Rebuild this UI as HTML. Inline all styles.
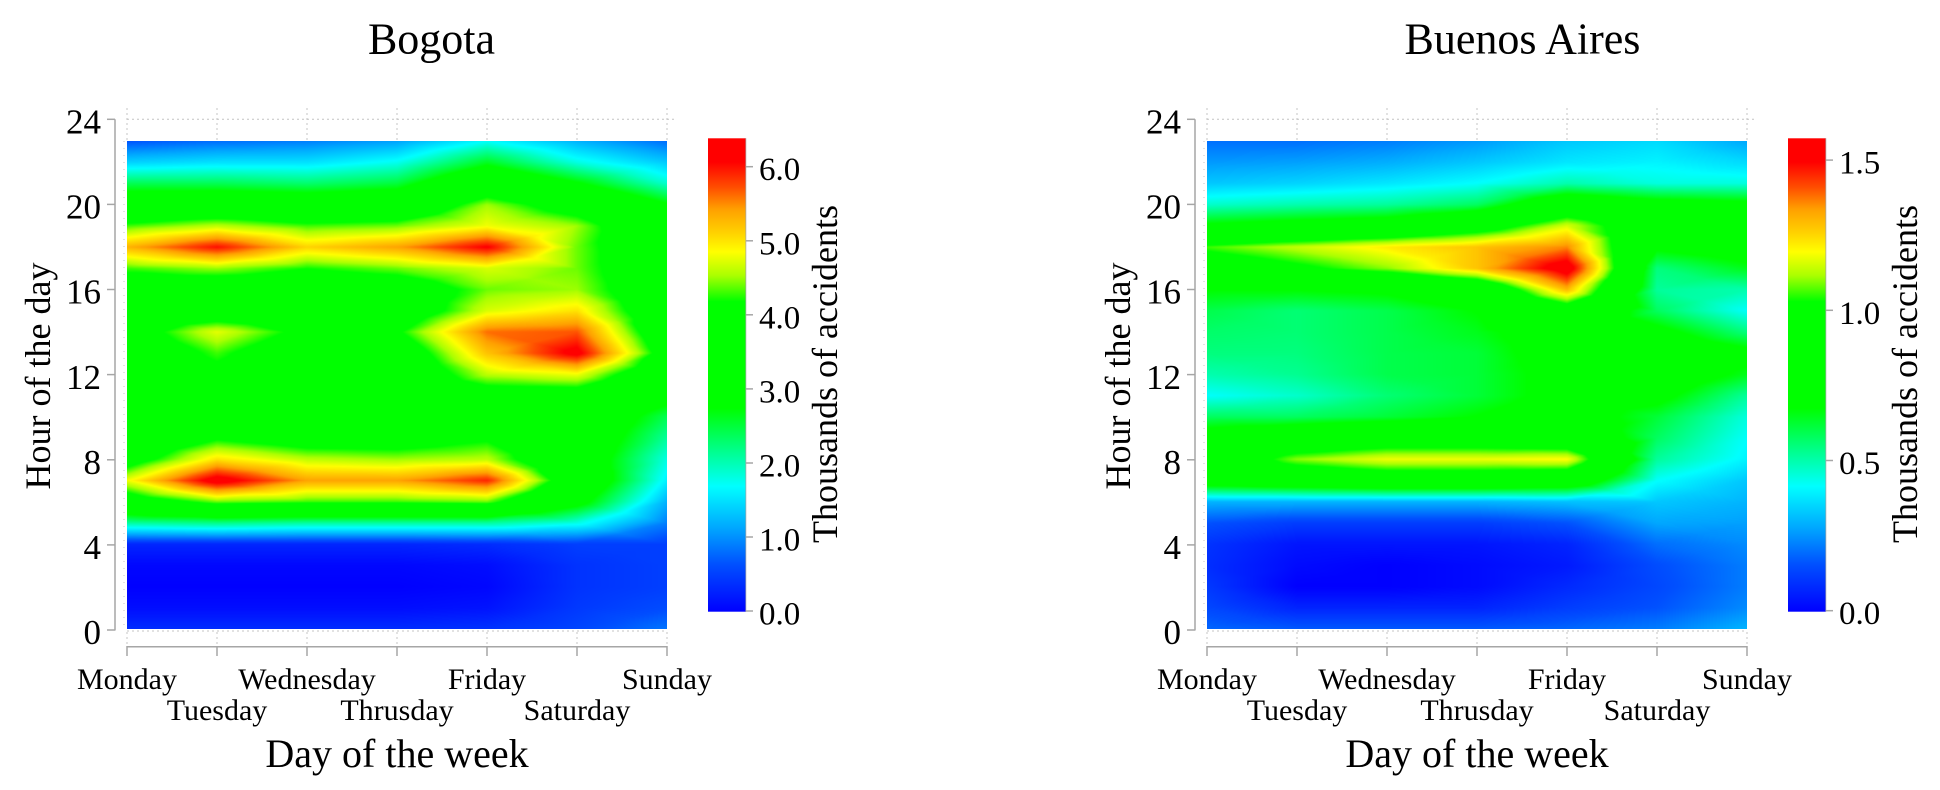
<!DOCTYPE html>
<html><head><meta charset="utf-8">
<style>
html,body{margin:0;padding:0;background:#fff;}
#wrap{position:relative;width:1940px;height:790px;overflow:hidden;background:#fff;}
canvas{position:absolute;background:linear-gradient(to top,#0010ff 0%,#0020ff 16%,#00ffff 20%,#00ff00 26%,#00ff00 84%,#00ffff 91%,#0070ff 100%);}
svg{position:absolute;left:0;top:0;}
text{font-family:"Liberation Serif","Times New Roman",serif;fill:#000;}
</style></head><body>
<div id="wrap">
<canvas id="c1" width="540" height="488" style="left:127px;top:141px;"></canvas>
<canvas id="c2" width="540" height="488" style="left:1207px;top:141px;"></canvas>
<svg width="1940" height="790" viewBox="0 0 1940 790">
<defs>
<linearGradient id="cm" x1="0" y1="1" x2="0" y2="0">
<stop offset="0" stop-color="rgb(0,0,255)"/>
<stop offset="0.10" stop-color="rgb(0,80,255)"/>
<stop offset="0.18" stop-color="rgb(0,170,255)"/>
<stop offset="0.265" stop-color="rgb(0,255,255)"/>
<stop offset="0.34" stop-color="rgb(0,255,140)"/>
<stop offset="0.43" stop-color="rgb(0,255,0)"/>
<stop offset="0.655" stop-color="rgb(0,255,0)"/>
<stop offset="0.71" stop-color="rgb(170,255,0)"/>
<stop offset="0.76" stop-color="rgb(255,255,0)"/>
<stop offset="0.80" stop-color="rgb(255,210,0)"/>
<stop offset="0.85" stop-color="rgb(255,160,0)"/>
<stop offset="0.895" stop-color="rgb(255,80,0)"/>
<stop offset="0.95" stop-color="rgb(255,0,0)"/>
<stop offset="1" stop-color="rgb(255,0,0)"/>
</linearGradient>
<g id="frame">
<g stroke="#c4c4c4" stroke-width="1" stroke-dasharray="2,3" fill="none">
<line x1="127" y1="119.3" x2="677" y2="119.3"/>
<line x1="127" y1="631" x2="667" y2="631"/>
<line x1="127" y1="108" x2="127" y2="141"/>
<line x1="217" y1="108" x2="217" y2="141"/>
<line x1="307" y1="108" x2="307" y2="141"/>
<line x1="397" y1="108" x2="397" y2="141"/>
<line x1="487" y1="108" x2="487" y2="141"/>
<line x1="577" y1="108" x2="577" y2="141"/>
<line x1="667" y1="108" x2="667" y2="141"/>
<line x1="127" y1="632" x2="127" y2="645"/>
<line x1="217" y1="632" x2="217" y2="645"/>
<line x1="307" y1="632" x2="307" y2="645"/>
<line x1="397" y1="632" x2="397" y2="645"/>
<line x1="487" y1="632" x2="487" y2="645"/>
<line x1="577" y1="632" x2="577" y2="645"/>
<line x1="667" y1="632" x2="667" y2="645"/>
<line x1="124" y1="141" x2="124" y2="630" stroke-dasharray="1,6"/>
</g>
<g stroke="#a6a6a6" stroke-width="1.5" fill="none">
<line x1="115" y1="119.3" x2="115" y2="630.5"/>
<line x1="107" y1="630" x2="115" y2="630"/>
<line x1="107" y1="544.9" x2="115" y2="544.9"/>
<line x1="107" y1="459.8" x2="115" y2="459.8"/>
<line x1="107" y1="374.6" x2="115" y2="374.6"/>
<line x1="107" y1="289.5" x2="115" y2="289.5"/>
<line x1="107" y1="204.4" x2="115" y2="204.4"/>
<line x1="107" y1="119.3" x2="115" y2="119.3"/>
<line x1="127" y1="646.7" x2="667" y2="646.7"/>
<line x1="127" y1="646" x2="127" y2="656"/>
<line x1="217" y1="646" x2="217" y2="656"/>
<line x1="307" y1="646" x2="307" y2="656"/>
<line x1="397" y1="646" x2="397" y2="656"/>
<line x1="487" y1="646" x2="487" y2="656"/>
<line x1="577" y1="646" x2="577" y2="656"/>
<line x1="667" y1="646" x2="667" y2="656"/>
<line x1="745.5" y1="138.3" x2="745.5" y2="611.7"/>
</g>
<rect x="708" y="138.3" width="37.5" height="473.4" fill="url(#cm)"/>
<g font-size="35" text-anchor="end">
<text x="101" y="644">0</text>
<text x="101" y="559">4</text>
<text x="101" y="474">8</text>
<text x="101" y="389">12</text>
<text x="101" y="303.5">16</text>
<text x="101" y="218.5">20</text>
<text x="101" y="133.5">24</text>
</g>
<g font-size="30" text-anchor="middle">
<text x="127" y="689">Monday</text>
<text x="307" y="689">Wednesday</text>
<text x="487" y="689">Friday</text>
<text x="667" y="689">Sunday</text>
<text x="217" y="720">Tuesday</text>
<text x="397" y="720">Thrusday</text>
<text x="577" y="720">Saturday</text>
</g>
<text x="397" y="767" font-size="40" text-anchor="middle">Day of the week</text>
<text transform="translate(50,376) rotate(-90)" font-size="36" text-anchor="middle">Hour of the day</text>
<text transform="translate(837,374) rotate(-90)" font-size="36" text-anchor="middle">Thousands of accidents</text>
</g>
</defs>

<use href="#frame" x="0" y="0"/>
<use href="#frame" x="1080" y="0"/>

<g stroke="#a6a6a6" stroke-width="1.5">
<line x1="745.5" y1="611" x2="753" y2="611"/>
<line x1="745.5" y1="537" x2="753" y2="537"/>
<line x1="745.5" y1="463" x2="753" y2="463"/>
<line x1="745.5" y1="388.9" x2="753" y2="388.9"/>
<line x1="745.5" y1="314.8" x2="753" y2="314.8"/>
<line x1="745.5" y1="240.8" x2="753" y2="240.8"/>
<line x1="745.5" y1="166.7" x2="753" y2="166.7"/>
</g>
<g font-size="33">
<text x="759" y="624.5">0.0</text>
<text x="759" y="550.5">1.0</text>
<text x="759" y="476.5">2.0</text>
<text x="759" y="402.4">3.0</text>
<text x="759" y="328.3">4.0</text>
<text x="759" y="254.3">5.0</text>
<text x="759" y="180.2">6.0</text>
</g>
<g stroke="#a6a6a6" stroke-width="1.5">
<line x1="1825.5" y1="610.7" x2="1833" y2="610.7"/>
<line x1="1825.5" y1="460.5" x2="1833" y2="460.5"/>
<line x1="1825.5" y1="310.3" x2="1833" y2="310.3"/>
<line x1="1825.5" y1="160.1" x2="1833" y2="160.1"/>
</g>
<g font-size="33">
<text x="1839" y="624.2">0.0</text>
<text x="1839" y="474">0.5</text>
<text x="1839" y="323.8">1.0</text>
<text x="1839" y="173.6">1.5</text>
</g>

<text x="431.5" y="53.3" font-size="44" text-anchor="middle">Bogota</text>
<text x="1522.5" y="53.3" font-size="44" text-anchor="middle">Buenos Aires</text>
</svg>
</div>
<script>
(function(){
var stops=[[0,0,0,255],[0.10,0,80,255],[0.18,0,170,255],[0.265,0,255,255],[0.34,0,255,140],[0.43,0,255,0],[0.655,0,255,0],[0.71,170,255,0],[0.76,255,255,0],[0.80,255,210,0],[0.85,255,160,0],[0.895,255,80,0],[0.95,255,0,0],[1,255,0,0]];
function cm(f){
  if(f<=0) return [0,0,255];
  if(f>=1) return [255,0,0];
  for(var k=1;k<stops.length;k++){
    if(f<=stops[k][0]){
      var a=stops[k-1],b=stops[k],t=(f-a[0])/(b[0]-a[0]);
      return [a[1]+t*(b[1]-a[1]),a[2]+t*(b[2]-a[2]),a[3]+t*(b[3]-a[3])];
    }
  }
  return [255,0,0];
}
function val(D,d,h){
  var i=Math.floor(d),j=Math.floor(h);
  if(i>5)i=5; if(i<0)i=0; if(j>22)j=22; if(j<0)j=0;
  var u=d-i,v=h-j;
  if(u<0)u=0; if(u>1)u=1; if(v<0)v=0; if(v>1)v=1;
  var a=D[i][j],b=D[i+1][j],c=D[i+1][j+1],e=D[i][j+1];
  var m=(a+b+c+e)/4;
  if(v<=u && v<=1-u){ return a*(1-u-v)+b*(u-v)+m*2*v; }
  if(v>=u && v>=1-u){ var w=1-v; return e*(1-u-w)+c*(u-w)+m*2*w; }
  if(u<=v && u<=1-v){ return a*(1-u-v)+e*(v-u)+m*2*u; }
  var w2=1-u; return b*(1-w2-v)+c*(v-w2)+m*2*w2;
}
function draw(id,D,vmax){
  var c=document.getElementById(id); if(!c.getContext) return;
  var ctx=c.getContext('2d'),W=c.width,H=c.height,im=ctx.createImageData(W,H),p=im.data;
  for(var y=0;y<H;y++){
    var h=23*(1-(y+0.5)/H);
    for(var x=0;x<W;x++){
      var d=6*(x+0.5)/W;
      var col=cm(val(D,d,h)/vmax);
      var k=(y*W+x)*4;
      p[k]=col[0];p[k+1]=col[1];p[k+2]=col[2];p[k+3]=255;
    }
  }
  ctx.putImageData(im,0,0);
}
var BOG=[
[0.35,0.1,0,0.05,0.3,2.1,3.7,4.8,3.8,3.5,3.0,3.4,3.5,3.6,3.8,3.6,3.7,4.3,5.3,4.3,3.3,2.4,1.4,0.65],
[0.35,0.1,0,0.05,0.3,2.2,4.4,6.3,5.0,4.1,3.5,3.4,4.0,4.3,4.75,3.6,3.6,4.5,6.0,4.6,3.4,2.4,1.5,0.8],
[0.35,0.1,0,0.05,0.3,2.1,4.3,5.4,4.6,3.8,3.5,3.5,3.5,3.6,4.0,3.5,3.6,4.2,5.1,4.3,3.3,2.3,1.5,0.9],
[0.35,0.1,0,0.05,0.3,2.1,4.3,5.4,4.5,3.8,3.5,3.5,3.5,3.6,4.1,3.6,3.7,4.4,5.4,4.4,3.4,2.5,1.75,1.1],
[0.4,0.15,0.05,0.1,0.35,2.1,4.4,5.9,4.6,4.1,3.6,3.8,4.6,5.2,5.6,4.7,4.4,4.7,6.1,4.8,4.5,3.6,2.6,1.7],
[0.55,0.45,0.4,0.4,0.5,1.8,3.0,3.5,3.3,3.4,3.5,3.8,4.8,6.2,5.7,5.0,4.5,4.4,4.4,4.5,3.8,2.8,1.8,1.2],
[0.85,0.6,0.5,0.5,0.5,0.9,1.2,1.6,1.8,2.1,2.4,3.0,3.4,3.8,3.5,3.5,3.6,3.6,3.5,3.3,2.8,1.9,1.35,0.8]
];
var BA=[
[0.19,0.14,0.11,0.09,0.1,0.16,0.3,0.8,0.85,0.76,0.58,0.42,0.5,0.55,0.57,0.6,0.68,0.9,1.06,0.7,0.47,0.33,0.26,0.2],
[0.17,0.07,0.0,0.02,0.04,0.12,0.3,0.85,1.1,0.85,0.58,0.47,0.53,0.55,0.56,0.56,0.68,1.0,1.14,0.74,0.5,0.35,0.27,0.2],
[0.17,0.07,0.0,0.0,0.04,0.12,0.3,0.9,1.18,0.9,0.62,0.56,0.6,0.6,0.6,0.6,0.7,1.1,1.22,0.78,0.52,0.38,0.29,0.22],
[0.17,0.07,0.02,0.02,0.04,0.12,0.3,0.9,1.18,0.9,0.68,0.62,0.62,0.62,0.65,0.68,0.8,1.28,1.28,0.92,0.58,0.42,0.33,0.26],
[0.19,0.12,0.08,0.05,0.07,0.16,0.32,0.85,1.2,0.85,0.75,0.72,0.72,0.75,0.75,0.9,1.3,1.57,1.36,1.16,0.85,0.5,0.38,0.33],
[0.22,0.16,0.14,0.15,0.2,0.28,0.33,0.42,0.52,0.58,0.62,0.72,0.78,0.8,0.72,0.58,0.52,0.55,0.7,0.85,0.75,0.45,0.4,0.36],
[0.3,0.24,0.22,0.22,0.24,0.27,0.3,0.33,0.4,0.42,0.45,0.52,0.65,0.72,0.55,0.42,0.5,0.65,0.75,0.8,0.72,0.45,0.36,0.28]
];
draw('c1',BOG,6.38);
draw('c2',BA,1.573);
})();
</script>
</body></html>
